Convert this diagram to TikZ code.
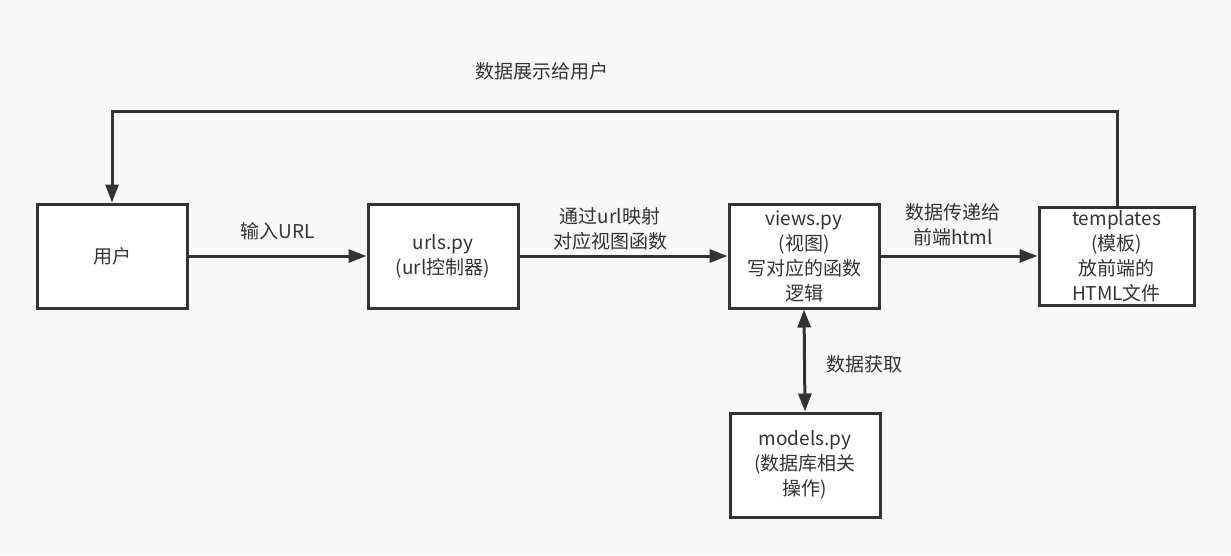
\documentclass[tikz,border=0pt]{standalone}
\usepackage{fontspec}
\setmainfont{Noto Sans CJK SC}
\usetikzlibrary{arrows.meta}
\definecolor{bgcol}{HTML}{F8F8F8}
\definecolor{inkcol}{HTML}{333333}
\begin{document}
\begin{tikzpicture}[x=1pt, y=-1pt, font=\fontsize{19}{25}\selectfont, text=inkcol,
	box/.style={draw=inkcol, line width=3pt, fill=white, minimum width=150pt, minimum height=104pt, align=center, inner sep=0pt},
	flow/.style={draw=inkcol, line width=3pt, -{Triangle[length=18pt, width=13pt]}},
	lbl/.style={align=center, inner sep=0pt}]
	\fill[bgcol] (0,0) rectangle (1231,555);
	\useasboundingbox (0,0) rectangle (1231,555);

	\node[box] (user) at (112,256) {用户};
	\node[box] (urls) at (443,256) {urls.py\\(url控制器)};
	\node[box] (views) at (804,256) {views.py\\(视图)\\写对应的函数\\逻辑};
	\node[box, minimum width=155pt, minimum height=98pt] (tpl) at (1116.5,256) {templates\\(模板)\\放前端的\\HTML文件};
	\node[box] (models) at (805,465) {models.py\\(数据库相关\\操作)};

	\coordinate (R) at (1117,111); \coordinate (L) at (112,111);

	\draw[flow] (user) -- (urls);
	\draw[flow] (urls) -- (views);
	\draw[flow] (views) -- (tpl);
	\draw[flow, {Triangle[length=18pt, width=13pt]}-{Triangle[length=18pt, width=13pt]}] (views.south) -- (models.north);
	\draw[flow] (tpl.north -| R) -- (R) -- (L) -- (user.north);

	\node[lbl] at (278,231) {输入URL};
	\node[lbl] at (610,229) {通过url映射\\对应视图函数};
	\node[lbl] at (953,225) {数据传递给\\前端html};
	\node[lbl] at (864,364) {数据获取};
	\node[lbl] at (542,71) {数据展示给用户};
\end{tikzpicture}
\end{document}
